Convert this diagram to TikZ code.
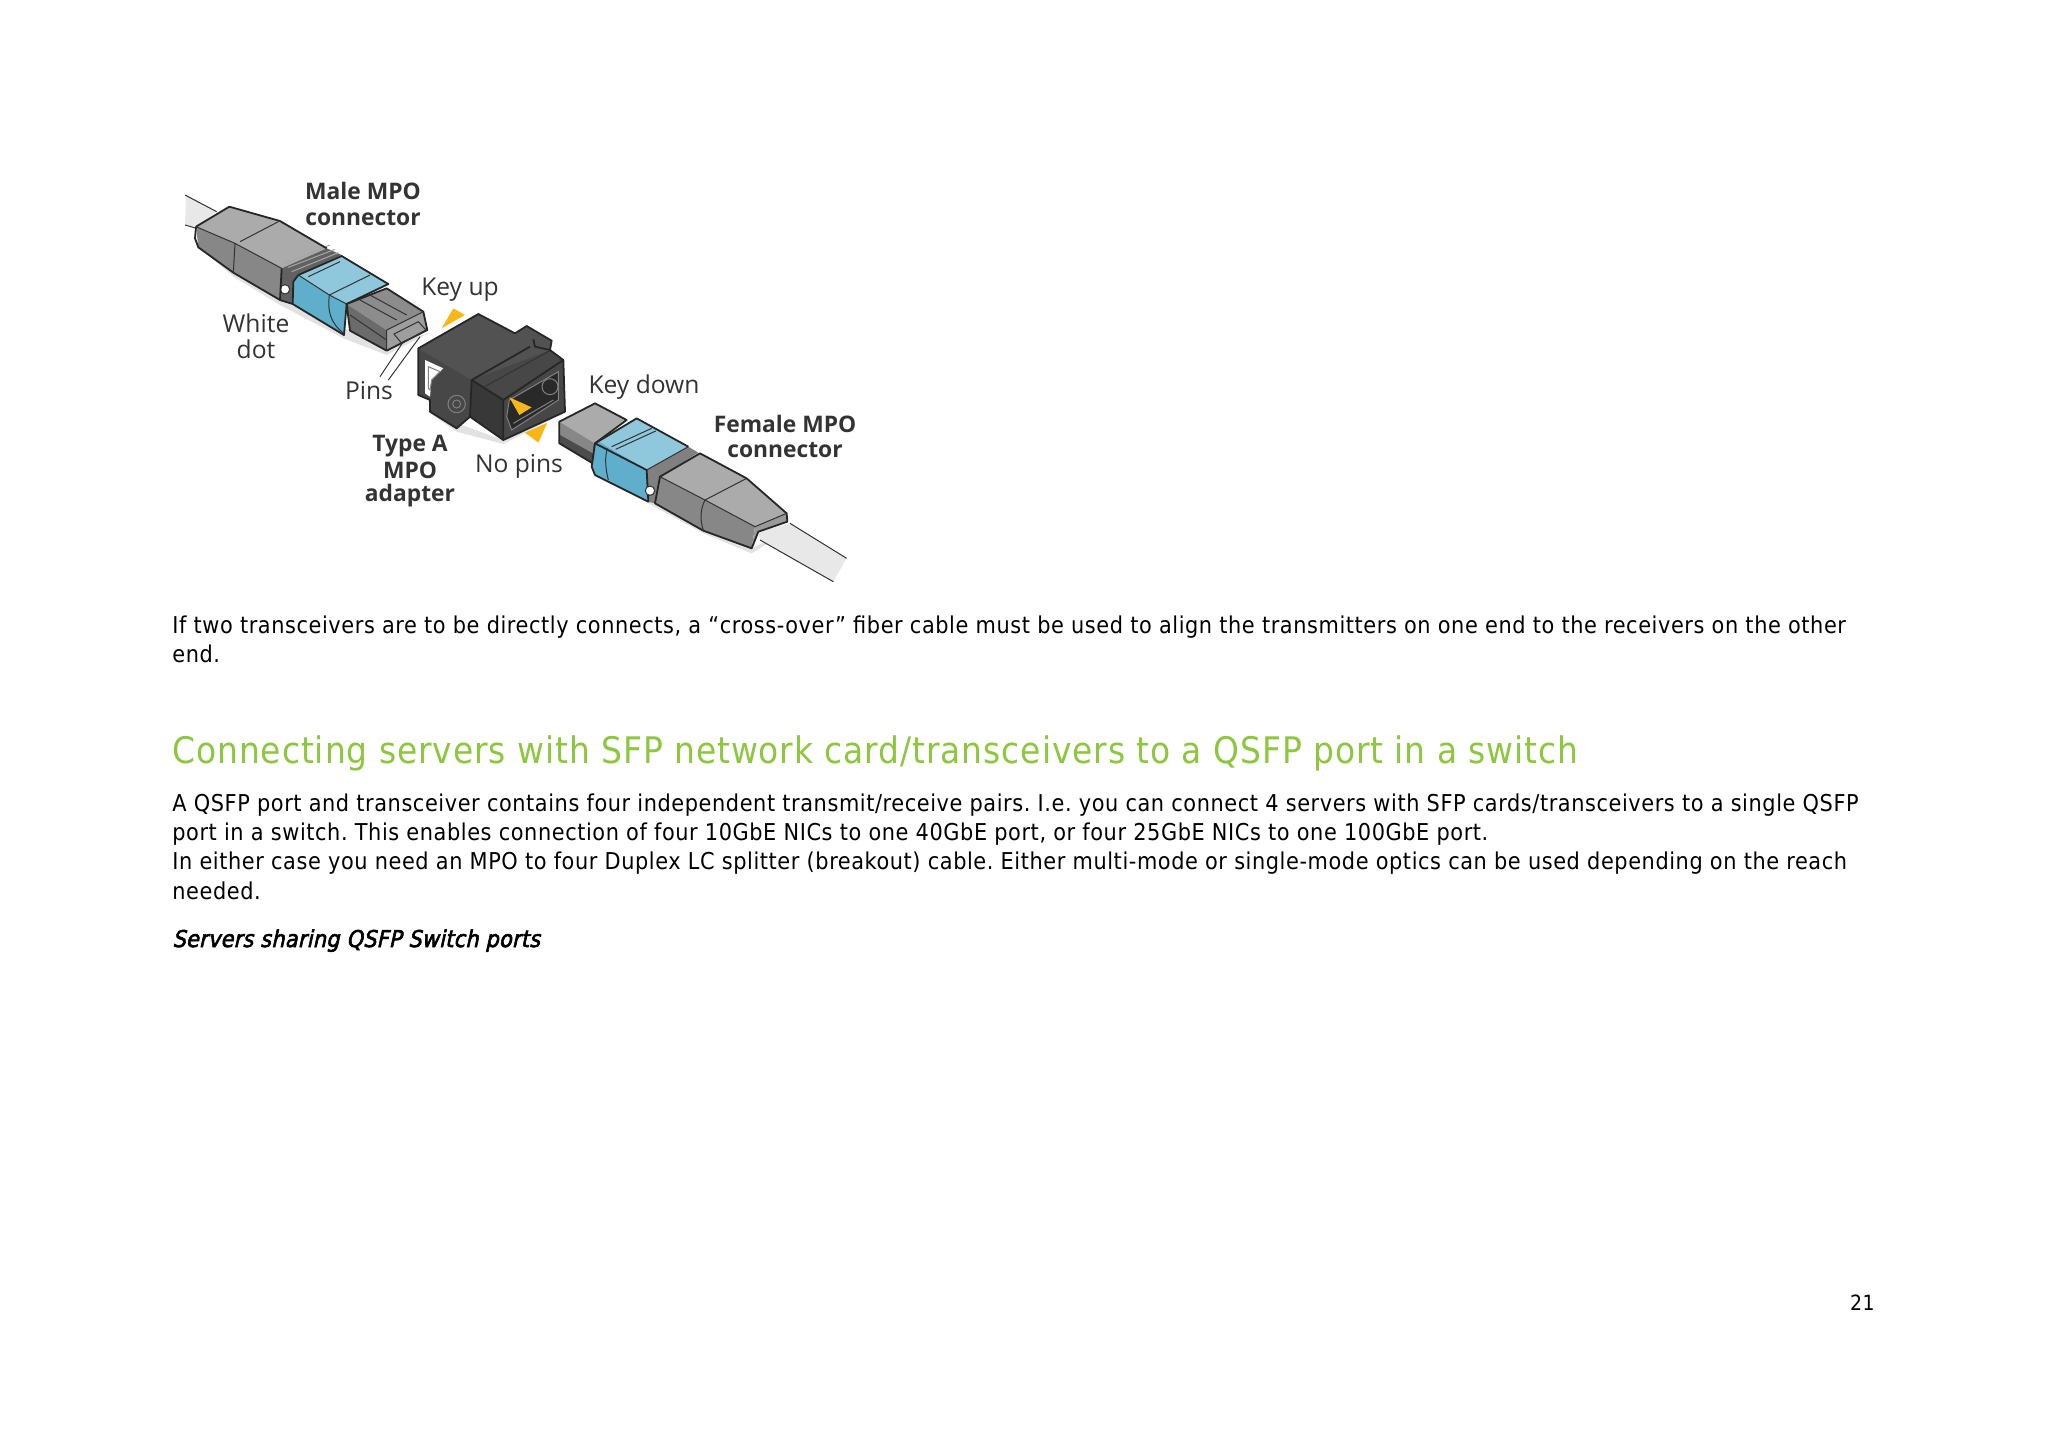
\documentclass[tikz,border=0pt]{standalone}
\usepackage{fontspec}
\setmainfont[LetterSpace=2.5]{DejaVu Sans Condensed}
\newfontfamily\labelfont{Open Sans}
\newfontfamily\subfont[FakeBold=2.5,FakeSlant=.22,LetterSpace=1.1]{DejaVu Sans Condensed}
\definecolor{headgreen}{HTML}{8DC63F}
\definecolor{bluetop}{HTML}{8FC7DC}
\definecolor{blueside}{HTML}{5FAFCC}
\definecolor{keyyellow}{HTML}{F7B718}
\tikzset{
  bodytext/.style={anchor=base west,inner sep=0pt,font=\fontsize{11.6}{13}\selectfont\frenchspacing},
  headtext/.style={anchor=base west,inner sep=0pt,text=headgreen,font=\fontsize{18.3}{22}\selectfont},
  parttext/.style={anchor=base,inner sep=0pt,text=black!80,font=\labelfont\fontsize{12.3}{14}\selectfont},
  partbold/.style={parttext,font=\labelfont\bfseries\fontsize{11.4}{13}\selectfont},
  part/.style={draw=black!85,line width=.9pt,line join=round},
  thin/.style={draw=black!80,line width=.5pt},
  shade/.style={fill=black!88!white,draw=none,opacity=.13}
}
\begin{document}
\begin{tikzpicture}[x=0.5pt,y=-0.5pt]
\useasboundingbox (0,0) rectangle (2048,1448);
\begin{scope}[shift={(170,160)},scale=1/3]
  \fill[shade] (85,260) -- (190,350) -- (330,435) -- (520,535) -- (650,585) -- (775,520) -- (650,560) -- (330,420) -- cycle;
  \fill[black!9] (48,105) -- (140,155) -- (78,200) -- (45,195) -- cycle;
  \draw[thin] (45,105) -- (140,155);
  \draw[thin] (45,195) -- (80,205);
  \fill[black!33] (78,200) -- (178,140) -- (330,183) -- (470,265) -- (335,325) -- (195,250) -- cycle;
  \fill[black!47] (78,200) -- (195,250) -- (335,325) -- (330,420) -- (190,338) -- (85,262) -- cycle;
  \fill[black!62] (335,325) -- (470,265) -- (515,285) -- (385,345) -- (370,365) -- (368,432) -- (330,422) -- cycle;
  \draw[thin,black!35] (345,310) -- (480,255) (355,322) -- (495,268) (365,335) -- (505,278);
  \fill[white] (345,388) circle (14);
  \draw[thin] (345,388) circle (14);
  \fill[bluetop] (385,345) -- (515,290) -- (655,372) -- (530,432) -- (478,405) -- cycle;
  \fill[blueside] (370,365) -- (385,345) -- (478,405) -- (530,432) -- (522,525) -- (368,432) -- cycle;
  \draw[part] (385,345) -- (515,288) -- (655,372) -- (530,432) -- (522,525) -- (368,432) -- (370,365) -- cycle;
  \draw[thin] (385,345) -- (478,405) -- (530,432);
  \draw[thin] (478,405) -- (600,345) (415,350) -- (510,305);
  \draw[thin] (478,405) .. controls (472,450) and (480,490) .. (522,520);
  \fill[black!45] (530,432) -- (650,385) -- (760,455) -- (650,510) -- cycle;
  \fill[black!58] (530,432) -- (650,510) -- (650,572) -- (540,512) -- cycle;
  \fill[black!38] (650,510) -- (760,455) -- (772,510) -- (650,572) -- cycle;
  \draw[part] (530,432) -- (650,385) -- (760,455) -- (772,510) -- (650,572) -- (540,512) -- cycle;
  \draw[thin] (570,420) -- (680,480) (600,405) -- (710,465) (540,465) -- (650,540) (650,510) -- (760,455) (650,510) -- (650,572);
  \draw[thin] (672,522) -- (745,485) -- (768,510) -- (695,550) -- cycle;
  \draw[part] (78,200) -- (178,140) -- (330,183) -- (470,265) (78,200) -- (75,235) -- (85,262) -- (190,338) -- (330,420) -- (368,432);
  \draw[part] (335,325) -- (330,420);
  \draw[thin] (78,200) -- (195,250) -- (335,325) (210,245) -- (325,185) (195,250) -- (190,338);
  \coordinate (pinone) at (700,545);
  \coordinate (pintwo) at (750,530);
  \coordinate (pinlow) at (630,650);
  \coordinate (pinend) at (655,660);
  \draw[thin] (pinlow) -- (pinone);
  \draw[thin] (pinend) -- (pintwo);
\end{scope}
\begin{scope}[shift={(350,300)},scale=1/3]
  \fill[keyyellow] (275,85) -- (310,25) -- (345,45) -- cycle;
  \fill[shade] (240,340) -- (320,395) -- (460,432) -- (640,340) -- (460,420) -- cycle;
  \fill[black!72] (205,145) -- (385,42) -- (495,100) -- (530,78) -- (605,122) -- (600,150) -- (640,180) -- (645,335) -- (460,420) -- (360,350) -- (320,385) -- (240,335) -- (240,300) -- (205,285) -- cycle;
  \fill[black!68] (205,145) -- (385,42) -- (495,100) -- (530,78) -- (605,122) -- (600,150) -- (365,240) -- (305,205) -- cycle;
  \fill[black!78] (365,240) -- (460,300) -- (460,420) -- (360,350) -- cycle;
  \fill[white] (225,180) -- (280,205) -- (245,240) -- (240,290) -- (225,280) -- cycle;
  \draw[thin,black!50] (235,200) -- (270,215) -- (245,240) -- (240,270) -- (235,265) -- cycle;
  \fill[black!72] (245,250) -- (305,205) -- (360,240) -- (358,345) -- (320,385) -- (245,335) -- cycle;
  \draw[thin,black!50] (320,312) circle (26) (320,312) circle (12);
  \draw[part] (205,145) -- (385,42) -- (495,100) -- (530,78) -- (605,122) -- (600,150) -- (640,180) -- (645,335) -- (460,420) -- (360,350) -- (320,385) -- (240,335) -- (240,300) -- (205,285) -- cycle;
  \draw[part] (365,240) -- (540,140) (365,240) -- (360,350) (365,240) -- (460,300) -- (640,180) (460,300) -- (460,420);
  \draw[thin] (400,262) -- (600,152);
  \draw[part] (550,118) -- (555,140) -- (600,150);
  \fill[black!84] (478,300) -- (625,215) -- (625,300) -- (485,390) -- (470,350) -- cycle;
  \draw[thin,black!50] (478,300) -- (625,215) -- (625,300) -- (485,390) -- (470,350) -- cycle;
  \draw[thin,black!50] (600,260) circle (24);
  \draw[thin,black!50] (490,370) -- (610,300);
  \fill[keyyellow] (478,292) -- (545,322) -- (508,345) -- (495,322) -- cycle;
  \fill[keyyellow] (525,398) -- (592,368) -- (565,428) -- cycle;
  \fill[shade] (628,440) -- (730,500) -- (895,610) -- (1060,700) -- (1205,760) -- (1320,690) -- (1205,745) -- (900,600) -- cycle;
  \fill[black!9] (1225,695) -- (1320,670) -- (1490,775) -- (1450,845) -- (1230,720) -- cycle;
  \draw[thin] (1320,670) -- (1490,775);
  \draw[thin] (1230,720) -- (1450,845);
  \fill[black!33] (628,365) -- (735,310) -- (830,360) -- (735,430) -- cycle;
  \fill[black!47] (628,365) -- (735,430) -- (728,490) -- (628,430) -- cycle;
  \fill[black!70] (630,405) -- (732,462) -- (728,490) -- (628,430) -- cycle;
  \draw[part] (628,365) -- (735,310) -- (830,360) -- (735,430) -- (728,490) -- (628,430) -- cycle;
  \fill[black!50] (890,510) -- (1015,440) -- (1045,458) -- (930,530) -- (915,610) -- (893,605) -- cycle;
  \fill[bluetop] (748,425) -- (860,355) -- (1015,440) -- (890,510) -- cycle;
  \fill[blueside] (735,430) -- (748,425) -- (890,510) -- (895,605) -- (735,525) -- (725,500) -- cycle;
  \draw[thin] (785,440) -- (905,385) (797,448) -- (917,393) (890,510) -- (1015,440);
  \draw[part] (735,430) -- (860,355) -- (1015,440) (725,500) -- (735,525) -- (895,605) -- (890,510) -- (735,430) -- cycle;
  \draw[thin] (772,445) .. controls (765,470) and (765,500) .. (775,540);
  \fill[white] (900,572) circle (14);
  \draw[thin] (900,572) circle (14);
  \fill[black!33] (930,530) -- (1050,460) -- (1190,535) -- (1310,640) -- (1215,680) -- (1065,600) -- cycle;
  \fill[black!47] (930,530) -- (1065,600) -- (1215,680) -- (1205,745) -- (1060,692) -- (915,610) -- cycle;
  \fill[black!40] (1215,680) -- (1310,640) -- (1312,665) -- (1225,695) -- (1205,745) -- cycle;
  \draw[part] (930,530) -- (1050,460) -- (1190,535) -- (1310,640) -- (1312,665) -- (1225,695) -- (1205,745) -- (1060,692) -- (915,610) -- cycle;
  \draw[thin] (930,530) -- (1065,600) -- (1215,680) -- (1310,640) (1065,600) -- (1190,535) (1065,600) .. controls (1050,630) and (1050,660) .. (1060,692);
\end{scope}
\node[partbold] (maleone) at (363,199) {Male MPO};
\node[partbold] (maletwo) at (363,225.5) {connector};
\node[parttext] (whiteone) at (256,332) {White};
\node[parttext] (whitetwo) at (256,358) {dot};
\node[parttext] (keyup) at (460,295.5) {Key up};
\node[parttext] (pins) at (369,399.5) {Pins};
\node[partbold] (typeone) at (410,451.5) {Type A};
\node[partbold] (typetwo) at (410,478) {MPO};
\node[partbold] (typethree) at (410,501.5) {adapter};
\node[parttext] (nopins) at (519,472) {No pins};
\node[parttext] (keydown) at (644,393) {Key down};
\node[partbold] (femaleone) at (785,432) {Female MPO};
\node[partbold] (femaletwo) at (785,457.5) {connector};
\node[bodytext] (introone) at (172,633) {If two transceivers are to be directly connects, a “cross-over” fiber cable must be used to align the transmitters on one end to the receivers on the other};
\node[bodytext] (introtwo) at (172,662) {end.};
\node[headtext] (head) at (172,763) {Connecting servers with SFP network card/transceivers to a QSFP port in a switch};
\node[bodytext] (paraone) at (172,811) {A QSFP port and transceiver contains four independent transmit/receive pairs. I.e. you can connect 4 servers with SFP cards/transceivers to a single QSFP};
\node[bodytext] (paratwo) at (172,840) {port in a switch. This enables connection of four 10GbE NICs to one 40GbE port, or four 25GbE NICs to one 100GbE port.};
\node[bodytext] (parathree) at (172,869) {In either case you need an MPO to four Duplex LC splitter (breakout) cable. Either multi-mode or single-mode optics can be used depending on the reach};
\node[bodytext] (parafour) at (172,899) {needed.};
\node[bodytext,font=\subfont\fontsize{11.6}{13}\selectfont] (sub) at (172,947) {Servers sharing QSFP Switch ports};
\node[bodytext,anchor=base east,font=\fontsize{10.5}{12}\selectfont] (pagenum) at (1875,1310) {21};
\end{tikzpicture}
\end{document}
